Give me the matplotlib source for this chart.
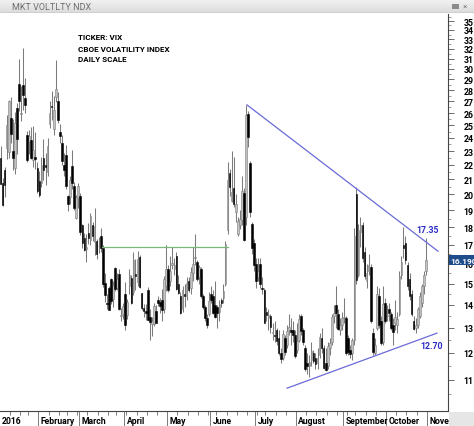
import numpy as np
import pandas as pd
import matplotlib
matplotlib.use("Agg")
import matplotlib.pyplot as plt
import matplotlib.transforms as mtransforms
from matplotlib.patches import Rectangle
from matplotlib.ticker import FixedLocator, FixedFormatter, NullFormatter

plt.rcParams['font.family'] = ['Roboto', 'DejaVu Sans']

# VIX daily candles, 4 Jan 2016 - 28 Oct 2016
holidays = ['2016-01-18', '2016-02-15', '2016-03-25', '2016-05-30', '2016-07-04', '2016-09-05']
dates = pd.bdate_range('2016-01-04', '2016-10-28', freq='C', holidays=holidays)

opens = [
    22.48, 20.75, 21.67, 23.22, 22.96, 25.58, 22.97, 21.75, 26.41, 28.52, 25.93, 28.47, 27.34, 24.21, 23.72, 23.83, 22.33, 22.56, 21.77,
    20.90, 20.75, 22.52, 21.98, 21.47, 25.08, 26.57, 24.71, 27.43, 27.04, 24.48, 23.58, 21.97, 22.69, 19.87, 19.84, 21.95, 20.55, 18.56, 19.76,
    19.91, 18.10, 17.38, 16.75, 17.64, 17.27, 18.11, 17.17, 17.21, 16.92, 17.50, 16.84, 15.01, 14.08, 14.80, 15.20, 14.28, 15.76, 14.79, 15.47, 13.49, 13.59,
    14.49, 13.54, 14.88, 15.29, 14.58, 15.45, 15.05, 16.36, 14.57, 13.84, 13.72, 14.68, 13.45, 13.17, 13.15, 13.73, 14.22, 14.11, 14.23, 13.80, 14.88,
    15.7, 15.1, 15.9, 15.7, 16.4, 15.0, 14.4, 13.8, 14.5, 14.4, 15.1, 14.8, 15.5, 16.3, 16.1, 15.3, 15.7, 14.4, 13.9, 13.4, 13.6,
    14.5, 14.4, 14.0, 13.9, 13.7, 14.2, 14.3, 15.0, 17.8, 21.4, 19.6, 20.4, 18.9, 17.6, 18.1, 18.4, 20.1, 18.6, 25.9, 22.1, 18.2, 17.1,
    16.0, 15.3, 16.0, 14.8, 14.7, 13.7, 13.4, 13.5, 12.8, 12.7, 12.9, 12.6, 12.0, 11.8, 12.6, 12.3, 12.9, 12.9, 12.9, 12.7,
    12.1, 12.5, 13.5, 12.9, 12.2, 11.6, 11.5, 11.7, 12.0, 11.8, 11.6, 11.9, 12.6, 12.2, 11.6, 11.5, 12.2, 12.4, 13.5, 14.0, 13.6, 12.9, 13.1,
    13.4, 13.4, 12.6, 12.1, 12.0, 12.5, 20.0, 15.4, 17.7, 18.1, 16.6, 15.1, 15.6, 15.8, 12.8, 12.0, 13.0, 14.4, 13.3, 12.4, 14.1,
    13.5, 13.8, 13.6, 13.1, 13.2, 13.1, 13.6, 15.4, 17.0, 17.1, 15.9, 15.2, 14.5, 13.3, 13.0, 13.1, 13.5, 14.1, 14.9, 15.6,
]
highs = [
    23.36, 21.06, 21.86, 25.86, 27.08, 27.39, 25.51, 26.12, 26.84, 30.95, 28.38, 32.09, 29.14, 24.51, 24.61, 24.89, 24.93, 24.48, 22.20,
    21.55, 22.53, 23.92, 22.86, 24.03, 27.06, 27.90, 27.49, 30.90, 27.87, 25.09, 24.25, 22.87, 23.44, 19.97, 21.25, 23.10, 20.82, 19.99, 20.78,
    20.11, 18.17, 17.63, 17.62, 18.22, 18.82, 18.27, 19.16, 17.29, 17.45, 17.95, 17.00, 15.51, 14.52, 14.87, 15.25, 15.12, 15.80, 15.53, 15.73, 13.85, 14.08,
    15.08, 14.27, 15.70, 15.40, 16.60, 16.22, 16.67, 16.44, 14.57, 14.06, 14.03, 14.81, 13.80, 13.45, 14.08, 14.01, 14.43, 14.32, 14.72, 15.36, 17.00,
    15.9, 16.4, 16.9, 16.3, 16.6, 15.4, 14.6, 14.9, 15.0, 15.3, 15.3, 15.8, 16.9, 17.6, 16.2, 15.9, 15.8, 14.5, 14.0, 13.6, 14.6,
    14.9, 14.7, 15.1, 14.0, 14.2, 14.3, 15.0, 17.2, 22.2, 21.7, 23.0, 22.6, 20.0, 18.6, 19.0, 21.2, 20.4, 26.7, 26.2, 22.3, 18.3, 17.3,
    16.3, 16.3, 16.3, 15.3, 14.8, 13.9, 13.8, 13.6, 13.2, 13.3, 13.0, 12.9, 12.2, 12.9, 12.7, 13.1, 13.6, 13.4, 13.3, 12.9,
    13.2, 13.6, 13.6, 13.0, 12.3, 12.0, 11.9, 12.4, 12.1, 12.0, 12.2, 12.8, 13.0, 12.3, 12.2, 12.4, 12.6, 13.6, 14.0, 14.9, 13.8, 13.4, 13.7,
    14.3, 13.5, 12.7, 12.3, 12.6, 17.95, 20.5, 18.2, 18.6, 18.3, 16.9, 16.0, 16.5, 16.0, 13.0, 12.6, 14.9, 14.8, 13.5, 14.9, 14.3,
    14.0, 14.1, 13.7, 13.4, 14.2, 13.7, 15.6, 16.4, 18.0, 17.5, 16.1, 15.5, 14.7, 13.5, 13.4, 13.9, 14.6, 15.0, 15.6, 17.35,
]
lows = [
    20.67, 19.25, 19.80, 22.40, 22.48, 23.57, 21.66, 21.36, 22.80, 26.19, 25.33, 26.28, 25.99, 22.21, 22.78, 22.44, 21.82, 21.73, 20.06,
    19.85, 20.46, 20.98, 20.64, 21.20, 24.79, 25.40, 24.21, 26.99, 25.22, 23.64, 22.00, 21.25, 20.34, 18.94, 19.41, 20.37, 19.00, 18.45, 19.13,
    17.57, 16.83, 16.65, 16.10, 17.04, 16.96, 17.19, 16.46, 16.25, 16.55, 16.58, 14.83, 14.14, 13.82, 13.79, 14.05, 13.91, 14.63, 14.69, 13.76, 13.29, 13.37,
    12.89, 13.38, 14.50, 14.05, 14.47, 14.68, 14.90, 14.78, 13.77, 13.47, 13.34, 13.35, 12.50, 12.65, 13.08, 13.20, 13.95, 13.66, 13.29, 13.64, 14.64,
    14.6, 14.9, 15.7, 15.4, 14.7, 14.5, 13.6, 13.7, 13.9, 14.2, 14.6, 14.5, 15.1, 15.9, 15.1, 15.0, 14.3, 13.8, 13.3, 13.0, 13.5,
    14.1, 13.6, 13.4, 13.0, 13.3, 13.9, 14.1, 14.9, 17.6, 19.9, 19.5, 19.2, 18.3, 17.5, 17.9, 18.1, 17.2, 18.1, 23.3, 18.6, 16.5, 15.6,
    14.8, 15.1, 14.8, 14.5, 13.2, 13.3, 12.9, 12.8, 12.5, 12.4, 12.3, 11.9, 11.6, 11.7, 11.9, 12.2, 12.7, 12.3, 12.4, 11.8,
    12.0, 12.4, 12.7, 12.3, 11.3, 11.2, 11.1, 11.5, 11.6, 11.4, 11.4, 11.8, 12.0, 11.4, 11.3, 11.4, 11.9, 12.3, 13.2, 13.0, 12.9, 12.7, 12.9,
    13.2, 11.9, 11.9, 11.8, 11.7, 12.3, 15.0, 15.3, 16.9, 16.1, 15.2, 14.8, 15.4, 13.2, 11.9, 11.9, 12.9, 13.0, 12.3, 12.3, 13.2,
    13.3, 13.3, 12.9, 12.3, 12.9, 12.8, 13.5, 15.2, 16.3, 16.0, 14.7, 14.2, 13.5, 12.9, 12.8, 13.0, 13.4, 13.9, 14.5, 15.4,
]
closes = [
    20.70, 19.34, 20.59, 24.99, 27.01, 24.30, 22.47, 25.22, 23.95, 27.02, 26.05, 27.59, 26.69, 22.34, 24.15, 22.50, 23.11, 22.42, 20.20,
    19.98, 21.98, 21.65, 21.84, 23.38, 26.00, 26.54, 26.29, 28.14, 25.40, 24.11, 22.31, 21.64, 20.53, 19.38, 20.98, 20.72, 19.11, 19.81, 20.55,
    17.70, 17.09, 16.70, 16.86, 17.35, 18.67, 17.50, 18.05, 16.50, 16.92, 16.84, 14.99, 14.44, 14.02, 13.79, 14.17, 14.94, 14.74, 15.24, 13.82, 13.56, 13.95,
    13.10, 14.12, 15.42, 14.09, 16.16, 15.36, 16.26, 14.85, 13.84, 13.72, 13.62, 13.35, 13.24, 13.28, 13.95, 13.22, 14.08, 13.96, 13.77, 15.22, 15.70,
    14.68, 15.60, 16.05, 15.91, 14.72, 14.57, 13.63, 14.69, 14.41, 15.04, 14.68, 15.57, 15.95, 16.33, 15.20, 15.82, 14.42, 13.90, 13.43, 13.12, 14.19,
    14.20, 13.63, 13.47, 13.65, 14.05, 14.08, 14.64, 17.03, 20.97, 20.50, 20.14, 19.37, 19.41, 18.37, 18.48, 20.2, 17.25, 25.8, 24.1, 18.9, 16.8, 15.9,
    15.1, 15.6, 14.96, 14.76, 13.2, 13.54, 13.55, 13.04, 12.82, 12.67, 12.44, 11.97, 11.77, 12.74, 12.02, 12.87, 13.05, 12.83, 12.72, 11.87,
    12.44, 13.37, 12.86, 12.42, 11.39, 11.50, 11.66, 12.05, 11.68, 11.55, 11.81, 12.64, 12.19, 11.43, 11.34, 12.27, 12.38, 13.45, 13.63, 13.65, 12.94, 13.12, 13.42,
    13.48, 11.98, 12.02, 11.94, 12.51, 17.50, 15.16, 17.85, 18.14, 16.30, 15.37, 15.53, 15.92, 13.30, 12.02, 12.29, 14.50, 13.10, 12.39, 14.02, 13.29,
    13.57, 13.63, 12.99, 12.84, 13.48, 13.38, 15.36, 16.1, 16.8, 16.2, 14.9, 14.4, 13.6, 12.95, 13.1, 13.8, 14.4, 14.9, 15.4, 16.19,
]

month_names = ['2016', 'February', 'March', 'April', 'May', 'June', 'July', 'August', 'September', 'October', 'Nove']
ytick_values = list(range(11, 36))

# trend lines drawn on the chart (trading-day index, value)
upper_line = ([120.5, 213.9], [26.7, 16.65])
lower_line = ([140.1, 213.4], [10.7, 12.78])
resistance = ([49.5, 111.4], [16.9, 16.9])
last_price = closes[-1]

W, H = 474, 427
fig = plt.figure(figsize=(W / 100, H / 100), dpi=100)


def fx(px):
    return px / W


def fy(py):
    return 1 - py / H


ax = fig.add_axes([0, fy(412), fx(448), (412 - 15) / H])

o = np.array(opens)
h = np.array(highs)
l = np.array(lows)
c = np.array(closes)
idx = np.arange(len(c))
up = c >= o
bot = np.minimum(o, c)
top = np.maximum(o, c)

ax.vlines(idx, l, h, color='#7c7c7c', lw=0.75, zorder=2)
ax.bar(idx[up], top[up] - bot[up], bottom=bot[up], width=0.8,
       color='#c2c2c2', edgecolor='#7c7c7c', lw=0.4, zorder=3)
ax.bar(idx[~up], top[~up] - bot[~up], bottom=bot[~up], width=0.8,
       color='black', edgecolor='black', lw=0.4, zorder=3)

ax.plot(*upper_line, color='#6a6ad8', lw=0.9, zorder=4)
ax.plot(*lower_line, color='#6a6ad8', lw=0.9, zorder=4)
ax.plot(*resistance, color='#77b777', lw=0.9, zorder=4)

ax.set_yscale('log')
ax.set_ylim(9.94, 35.8)
ax.set_xlim(-0.25, 218.8)

ax.yaxis.tick_right()
ax.yaxis.set_major_locator(FixedLocator(ytick_values))
ax.yaxis.set_major_formatter(FixedFormatter([str(v) for v in ytick_values]))
ax.yaxis.set_minor_locator(FixedLocator(np.arange(10.5, 36, 0.5)))
ax.yaxis.set_minor_formatter(NullFormatter())
ax.tick_params(axis='y', which='major', length=4, width=0.6, color='#555555', pad=7, labelsize=6.3)
ax.tick_params(axis='y', which='minor', length=2, width=0.5, color='#777777')
for t in ax.get_yticklabels():
    t.set_fontweight('bold')

# months and weeks on the x axis
month_start = [0] + [i for i in range(1, len(dates)) if dates[i].month != dates[i - 1].month] + [len(dates)]
week_start = [i for i in range(1, len(dates)) if dates[i].weekday() < dates[i - 1].weekday()]
ax.xaxis.set_major_locator(FixedLocator([m - 0.5 for m in month_start]))
ax.xaxis.set_major_formatter(NullFormatter())
ax.xaxis.set_minor_locator(FixedLocator([w - 0.5 for w in week_start]))
ax.tick_params(axis='x', which='major', length=11, width=0.6, color='#666666')
ax.tick_params(axis='x', which='minor', length=3, width=0.6, color='#666666')
trans = mtransforms.blended_transform_factory(ax.transData, ax.transAxes)
for m, name in zip(month_start, month_names):
    ax.text(m + 0.6, -0.024, name, transform=trans, ha='left', va='center',
            fontsize=6.2, fontweight='bold', clip_on=False)

for s in ['left', 'top']:
    ax.spines[s].set_visible(False)
ax.spines['right'].set_color('#444444')
ax.spines['bottom'].set_color('#444444')
ax.spines['right'].set_linewidth(0.8)
ax.spines['bottom'].set_linewidth(0.8)

# labels on the trend lines
ax.text(203.2, 17.83, '17.35', color='#2c2cc8', fontsize=6.3, fontweight='bold', va='center')
ax.text(205.1, 12.27, '12.70', color='#2c2cc8', fontsize=6.3, fontweight='bold', va='center')

# notes
for k, line in enumerate(['TICKER: VIX', 'CBOE VOLATILITY INDEX', 'DAILY SCALE']):
    fig.text(fx(78), fy(38 + 11 * k), line, fontsize=5.8, fontweight='bold', va='center')

# last price tag
fig.text(fx(450.5), fy(261), '%.3f' % last_price, color='white', fontsize=6, fontweight='bold',
         va='center', zorder=10, bbox=dict(boxstyle='square,pad=0.18', fc='#1e4d8c', ec='none'))

# window header
hax = fig.add_axes([0, fy(14), 1, 14 / H])
grad = np.linspace(0.95, 0.86, 20).reshape(-1, 1)
hax.imshow(grad, aspect='auto', cmap='gray', vmin=0, vmax=1, extent=[0, 1, 0, 1])
hax.axhline(0.02, color='#9c9c9c', lw=1.0)
hax.set_xlim(0, 1)
hax.set_ylim(0, 1)
hax.axis('off')
fig.text(fx(12), fy(7), 'MKT VOLTLTY NDX', color='#6e6e6e', fontsize=6.5, va='center')
fig.patches.append(Rectangle((fx(452), fy(10)), fx(7), 5 / H, transform=fig.transFigure,
                             fc='#8a8a8a', ec='none'))
fig.text(fx(463), fy(7), '×', color='#777777', fontsize=6, va='center')

# corner box under the price scale
fig.patches.append(Rectangle((fx(449), 0), fx(25), 14 / H, transform=fig.transFigure,
                             fc='#e6e6e6', ec='none'))

fig.savefig('out.png', dpi=100)
